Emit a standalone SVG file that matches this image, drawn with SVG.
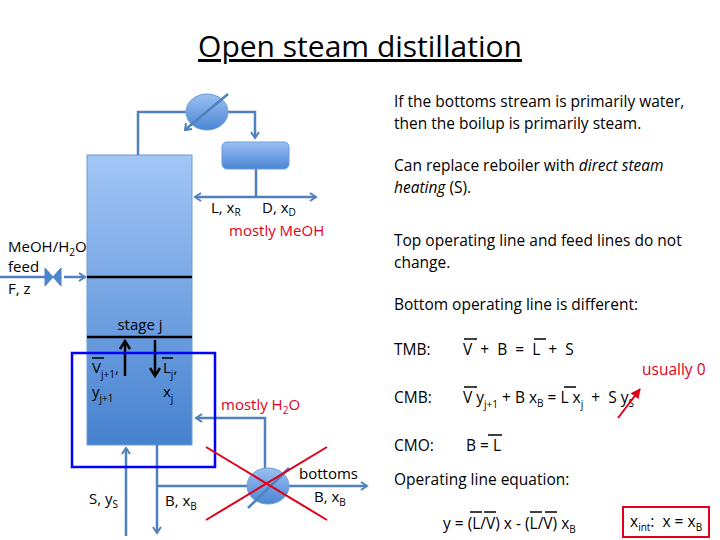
<svg xmlns="http://www.w3.org/2000/svg" width="720" height="540" viewBox="0 0 720 540">
<style>
text{font-family:"Open Sans","Liberation Sans",sans-serif;font-size:15px;fill:#000;white-space:pre}
#text text{font-size:15.5px}
.r{fill:#e0001b}
.s{font-size:10px}
#text .s{font-size:10px}
.p{fill:none;stroke:#4f81bd;stroke-width:2.5}
.k{stroke:#000;stroke-width:2.5}
.ob{stroke:#000;stroke-width:1.5}
</style>
<defs>
<linearGradient id="col" x1="0" y1="0" x2="0" y2="1"><stop offset="0" stop-color="#a3c6f7"/><stop offset="1" stop-color="#4682cf"/></linearGradient>
<linearGradient id="eq" x1="0" y1="0" x2="0" y2="1"><stop offset="0" stop-color="#9cc0f3"/><stop offset="1" stop-color="#4a86d3"/></linearGradient>
<marker id="a" markerWidth="10" markerHeight="10" refX="7" refY="5" orient="auto" markerUnits="userSpaceOnUse"><path d="M1,1 L7,5 L1,9" fill="none" stroke="#4f81bd" stroke-width="2"/></marker>
<marker id="b" markerWidth="12" markerHeight="12" refX="9" refY="6" orient="auto" markerUnits="userSpaceOnUse"><path d="M1,1 L9,6 L1,11" fill="none" stroke="#000" stroke-width="2.5"/></marker>
<marker id="rr" markerWidth="12" markerHeight="12" refX="9" refY="6" orient="auto" markerUnits="userSpaceOnUse"><path d="M0,1 L10,6 L0,11 z" fill="#e0001b"/></marker>
</defs>
<text x="360" y="57" text-anchor="middle" style="font-size:30px;text-decoration:underline">Open steam distillation</text>

<g id="column"><rect x="87" y="155" width="105" height="290" fill="url(#col)" stroke="#6c9bd6"/>
<line x1="87" y1="277" x2="192" y2="277" class="k"/><line x1="87" y1="337" x2="192" y2="337" class="k"/>
<text x="140" y="330" text-anchor="middle">stage j</text></g>

<g id="connectors">
<path class="p" d="M138,155 V112 H186"/><path class="p" d="M228,112 H255 V138" marker-end="url(#a)"/>
<path class="p" d="M256,169 V197"/>
<path class="p" d="M256,197 H195" marker-end="url(#a)"/><path class="p" d="M256,197 H316" marker-end="url(#a)"/>
<path class="p" d="M0,277 H45"/><path class="p" d="M64,277 H85" marker-end="url(#a)"/>
<path class="p" d="M265,468 V418 H196" marker-end="url(#a)"/>
<path class="p" d="M157,445 V533" marker-end="url(#a)"/><path class="p" d="M157,486 H247"/>
<path class="p" d="M289,486 H367" marker-end="url(#a)"/>
<path class="p" d="M126,536 V448" marker-end="url(#a)"/>
<line x1="125" y1="376" x2="125" y2="341" class="ob" style="stroke-width:2.5" marker-end="url(#b)"/>
<line x1="155" y1="340" x2="155" y2="376" class="ob" style="stroke-width:2.5" marker-end="url(#b)"/>
</g>

<g id="condenser"><ellipse cx="207" cy="112" rx="21" ry="18" fill="url(#eq)" stroke="#6c9bd6"/>
<line x1="228" y1="94" x2="186" y2="129" stroke="#4f81bd" stroke-width="2.5"/><path d="M186,123 L185,130 L192,129" fill="none" stroke="#4f81bd" stroke-width="2"/></g>
<g id="drum"><rect x="222" y="142" width="67" height="27" rx="5" fill="url(#eq)" stroke="#6c9bd6"/></g>
<g id="valve"><path d="M45,268 L61,286 L61,268 L45,286 z" fill="#4a86d3" stroke="#4f81bd"/></g>
<g id="reboiler"><ellipse cx="268" cy="486" rx="21" ry="18" fill="url(#eq)" stroke="#6c9bd6"/>
<line x1="248" y1="508" x2="289" y2="468" stroke="#4f81bd" stroke-width="2.5"/></g>
<g id="cv"><rect x="72" y="353" width="143" height="114" fill="none" stroke="#0000ff" stroke-width="2.5"/></g>
<g id="cross"><line x1="206" y1="447" x2="327" y2="520" stroke="#e0001b" stroke-width="2"/><line x1="206" y1="520" x2="327" y2="447" stroke="#e0001b" stroke-width="2"/></g>

<g id="labels">
<text x="211" y="213">L, x<tspan class="s" dy="3">R</tspan></text>
<text x="262" y="213">D, x<tspan class="s" dy="3">D</tspan></text>
<text x="229" y="236" class="r">mostly MeOH</text>
<text x="8" y="252">MeOH/H<tspan class="s" dy="4">2</tspan><tspan dy="-4">O</tspan></text>
<text x="8" y="272">feed</text><text x="8" y="294">F, z</text>
<text x="92" y="373">V<tspan class="s" dy="5">j+1</tspan><tspan dy="-5">,</tspan></text>
<line x1="92" y1="358" x2="104" y2="358" class="ob"/>
<text x="92" y="397">y<tspan class="s" dy="5">j+1</tspan></text>
<text x="163" y="373">L<tspan class="s" dy="5">j</tspan><tspan dy="-5">,</tspan></text>
<line x1="162" y1="358" x2="173" y2="358" class="ob"/>
<text x="163" y="397">x<tspan class="s" dy="5">j</tspan></text>
<text x="221" y="410" class="r">mostly H<tspan class="s" dy="4">2</tspan><tspan dy="-4">O</tspan></text>
<text x="299" y="479">bottoms</text>
<text x="314" y="502">B, x<tspan class="s" dy="4">B</tspan></text>
<text x="89" y="504">S, y<tspan class="s" dy="4">S</tspan></text>
<text x="165" y="506">B, x<tspan class="s" dy="4">B</tspan></text>
</g>

<g id="text">
<text x="394" y="107">If the bottoms stream is primarily water,</text>
<text x="394" y="129">then the boilup is primarily steam.</text>
<text x="394" y="171">Can replace reboiler with <tspan font-style="italic">direct steam</tspan></text>
<text x="394" y="193"><tspan font-style="italic">heating</tspan> (S).</text>
<text x="394" y="246">Top operating line and feed lines do not</text>
<text x="394" y="268">change.</text>
<text x="394" y="310">Bottom operating line is different:</text>
<text x="394" y="355">TMB:</text>
<text x="463" y="355">V  +  B  =  L  +  S</text>
<line x1="464" y1="339" x2="477" y2="339" class="ob"/><line x1="534" y1="339" x2="546" y2="339" class="ob"/>
<text x="394" y="403">CMB:</text>
<text x="463" y="403">V y<tspan class="s" dy="5">j+1</tspan><tspan dy="-5"> + B x</tspan><tspan class="s" dy="4">B</tspan><tspan dy="-4"> = L x</tspan><tspan class="s" dy="5">j</tspan><tspan dy="-5">  +  S y</tspan><tspan class="s" dy="4">S</tspan></text>
<line x1="464" y1="387" x2="477" y2="387" class="ob"/><line x1="564" y1="387" x2="576" y2="387" class="ob"/>
<line x1="618" y1="418" x2="640" y2="389" stroke="#e0001b" stroke-width="2" marker-end="url(#rr)"/>
<text x="642" y="375" class="r">usually 0</text>
<text x="394" y="451">CMO:</text>
<text x="466" y="451">B = L</text>
<line x1="488" y1="435" x2="502" y2="435" class="ob"/>
<text x="394" y="485">Operating line equation:</text>
<text x="443" y="529">y = (L/V) x - (L/V) x<tspan class="s" dy="4">B</tspan></text>
<line x1="470" y1="512" x2="482" y2="512" class="ob"/><line x1="484" y1="512" x2="496" y2="512" class="ob"/>
<line x1="530" y1="512" x2="542" y2="512" class="ob"/><line x1="545" y1="512" x2="557" y2="512" class="ob"/>
<rect x="623" y="507" width="86" height="30" fill="none" stroke="#e0001b" stroke-width="2"/>
<text x="630" y="527">x<tspan class="s" dy="4">int</tspan><tspan dy="-4">:  x = x</tspan><tspan class="s" dy="4">B</tspan></text>
</g>
</svg>
